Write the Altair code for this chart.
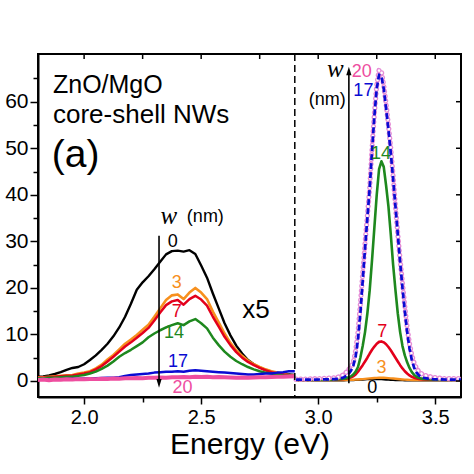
import altair as alt
import pandas as pd

# ---------------------------------------------------------------------------
# Visible (defect) band, plotted x5, left of the break at 2.9 eV
# ---------------------------------------------------------------------------
e_vis = [1.800, 1.825, 1.850, 1.875, 1.900, 1.925, 1.950, 1.975, 2.000, 2.025,
         2.050, 2.075, 2.100, 2.125, 2.150, 2.175, 2.200, 2.225, 2.250, 2.275,
         2.300, 2.325, 2.350, 2.375, 2.400, 2.425, 2.450, 2.475, 2.500, 2.525,
         2.550, 2.575, 2.600, 2.625, 2.650, 2.675, 2.700, 2.725, 2.750, 2.775,
         2.800, 2.825, 2.850, 2.875, 2.900]

vis_w0 = [0.9, 1.0, 1.2, 1.5, 1.9, 2.4, 2.8, 3.0, 3.6, 4.5,
          5.5, 6.7, 8.0, 9.6, 11.5, 13.8, 16.6, 19.6, 21.2, 22.5,
          24.0, 25.6, 27.2, 27.9, 28.0, 27.8, 28.1, 27.3, 24.8, 22.2,
          18.8, 15.6, 12.4, 9.8, 7.6, 5.9, 4.5, 3.6, 2.9, 2.4,
          2.0, 1.7, 1.5, 1.4, 1.3]
vis_w3 = [0.8, 0.8, 0.9, 1.0, 1.1, 1.2, 1.3, 1.6, 1.8, 2.1,
          2.7, 3.5, 4.6, 5.6, 6.8, 8.0, 8.9, 9.9, 11.0, 12.1,
          13.8, 15.6, 17.4, 18.4, 18.6, 17.6, 19.0, 20.0, 19.0, 17.6,
          14.9, 12.6, 10.2, 8.2, 6.6, 5.4, 4.4, 3.6, 3.0, 2.5,
          2.1, 1.8, 1.5, 1.3, 1.2]
vis_w7 = [0.7, 0.7, 0.8, 0.9, 1.0, 1.1, 1.2, 1.4, 1.6, 1.9,
          2.5, 3.2, 4.2, 5.2, 6.3, 7.4, 8.3, 9.3, 10.3, 11.4,
          13.0, 14.7, 16.3, 17.1, 17.4, 16.4, 17.6, 18.3, 17.5, 16.2,
          13.8, 11.7, 9.5, 7.7, 6.2, 5.0, 4.1, 3.4, 2.8, 2.3,
          1.9, 1.6, 1.4, 1.2, 1.1]
vis_w14 = [0.6, 0.6, 0.7, 0.7, 0.8, 0.9, 0.9, 1.1, 1.3, 1.6,
           2.0, 2.6, 3.3, 4.2, 5.2, 6.0, 6.7, 7.5, 8.3, 9.4,
           10.2, 10.9, 11.5, 12.0, 12.4, 12.0, 12.8, 13.3, 12.4, 11.3,
           9.3, 7.7, 6.3, 5.2, 4.3, 3.6, 3.0, 2.5, 2.1, 1.8,
           1.6, 1.4, 1.2, 1.1, 1.0]
vis_w17 = [0.3, 0.3, 0.35, 0.4, 0.4, 0.45, 0.5, 0.5, 0.55, 0.6,
           0.6, 0.65, 0.7, 0.7, 0.8, 1.1, 1.3, 1.4, 1.5, 1.6,
           1.8, 1.9, 2.0, 2.0, 2.1, 2.0, 2.2, 2.3, 2.2, 2.1,
           2.0, 1.9, 1.8, 1.7, 1.6, 1.5, 1.4, 1.4, 1.5, 1.6,
           1.6, 1.8, 1.9, 2.1, 2.1]
vis_w20 = [0.2, 0.3, 0.15, 0.3, 0.25, 0.35, 0.3, 0.4, 0.35, 0.45,
           0.4, 0.5, 0.45, 0.55, 0.5, 0.6, 0.6, 0.65, 0.6, 0.7,
           0.7, 0.75, 0.7, 0.8, 0.8, 0.85, 0.8, 0.9, 0.85, 0.9,
           0.8, 0.85, 0.8, 0.75, 0.7, 0.75, 0.7, 0.75, 0.8, 0.8,
           0.85, 0.9, 0.9, 0.95, 1.0]

# ---------------------------------------------------------------------------
# Near-band-edge UV emission, right of the break
# ---------------------------------------------------------------------------
e_uv = [2.905, 2.94, 2.99, 3.04, 3.07, 3.09,
        3.10, 3.11, 3.12, 3.13, 3.14, 3.15, 3.16, 3.17, 3.18, 3.19,
        3.20, 3.21, 3.22, 3.23, 3.24, 3.25, 3.26, 3.27, 3.28, 3.29,
        3.30, 3.31, 3.32, 3.33, 3.34, 3.35, 3.36, 3.37, 3.38, 3.39,
        3.40, 3.41, 3.42, 3.43, 3.44, 3.45,
        3.47, 3.49, 3.52, 3.55, 3.61]

uv_w0 = [0.15, 0.15, 0.15, 0.15, 0.15, 0.15,
         0.15, 0.15, 0.16, 0.17, 0.18, 0.2, 0.22, 0.25, 0.28, 0.31,
         0.34, 0.37, 0.39, 0.4, 0.4, 0.4, 0.39, 0.37, 0.34, 0.31,
         0.28, 0.25, 0.22, 0.2, 0.18, 0.17, 0.16, 0.15, 0.15, 0.15,
         0.15, 0.15, 0.15, 0.15, 0.15, 0.15,
         0.15, 0.15, 0.15, 0.15, 0.15]
uv_w3 = [0.2, 0.2, 0.2, 0.2, 0.2, 0.2,
         0.2, 0.2, 0.22, 0.24, 0.26, 0.28, 0.3, 0.33, 0.37, 0.41,
         0.46, 0.51, 0.56, 0.6, 0.64, 0.67, 0.69, 0.7, 0.69, 0.66,
         0.62, 0.57, 0.52, 0.47, 0.42, 0.37, 0.33, 0.29, 0.26, 0.24,
         0.22, 0.21, 0.2, 0.2, 0.2, 0.2,
         0.2, 0.2, 0.2, 0.2, 0.2]
uv_w7 = [0.3, 0.3, 0.3, 0.3, 0.35, 0.35,
         0.4, 0.45, 0.5, 0.6, 0.8, 1.0, 1.4, 2.0, 2.7, 3.4,
         4.2, 5.0, 5.9, 6.7, 7.4, 8.0, 8.4, 8.5, 8.3, 7.9,
         7.3, 6.6, 5.8, 5.0, 4.2, 3.4, 2.7, 2.1, 1.6, 1.2,
         0.9, 0.7, 0.55, 0.45, 0.4, 0.35,
         0.3, 0.3, 0.3, 0.3, 0.3]
uv_w14 = [0.3, 0.3, 0.3, 0.3, 0.35, 0.4,
          0.45, 0.5, 0.6, 0.8, 1.0, 1.4, 2.0, 3.0, 5.0, 7.5,
          10.5, 14.5, 19.5, 26.0, 33.0, 40.0, 45.5, 47.2, 46.0, 42.0,
          37.5, 31.5, 25.0, 19.5, 14.5, 10.5, 7.5, 5.5, 4.0, 2.8,
          1.9, 1.3, 0.9, 0.7, 0.5, 0.45,
          0.4, 0.35, 0.3, 0.3, 0.3]
uv_w17 = [0.3, 0.3, 0.3, 0.35, 0.4, 0.5,
          0.6, 0.8, 1.1, 1.5, 2.2, 3.3, 5.3, 9.0, 14.5, 21.5,
          28.5, 35.0, 41.5, 49.5, 57.0, 62.8, 65.8, 65.5, 62.8, 58.5,
          54.0, 49.0, 43.5, 37.5, 31.5, 25.5, 20.0, 15.0, 10.5, 7.0,
          4.5, 2.8, 1.8, 1.2, 0.9, 0.7,
          0.5, 0.4, 0.35, 0.3, 0.3]
uv_w20 = [0.4, 0.4, 0.5, 0.6, 0.7, 0.9,
          1.1, 1.4, 1.9, 2.5, 3.0, 4.0, 6.5, 10.5, 16.5, 23.0,
          29.5, 35.5, 41.5, 50.0, 57.5, 63.5, 66.8, 66.5, 63.5, 59.5,
          55.0, 50.0, 44.0, 37.5, 31.5, 26.0, 21.0, 16.0, 11.5, 8.0,
          5.5, 3.8, 2.7, 2.0, 1.6, 1.3,
          1.0, 0.8, 0.6, 0.5, 0.5]

x_ticks = [2.0, 2.25, 2.5, 2.75, 3.0, 3.25, 3.5]
y_ticks = [0, 5, 10, 15, 20, 25, 30, 35, 40, 45, 50, 55, 60, 65]
right_ticks = [0, 10, 20, 30, 40, 50, 60]
break_energy = [2.9]

# ---------------------------------------------------------------------------
# Styling
# ---------------------------------------------------------------------------
W, H = 423, 343
FONT = "Liberation Sans"
C_BLACK = "#000000"
C_ORANGE = "#f7901e"
C_RED = "#e3001b"
C_GREEN = "#1e881e"
C_BLUE = "#0a0ad2"
C_PINK = "#ee4e9f"
C_CIRCLE = "#e58cd6"

xs = alt.Scale(domain=[1.803, 3.61], nice=False, zero=False)
ys = alt.Scale(domain=[-3.44, 70.25], nice=False, zero=False)

x_axis = alt.Axis(
    values=x_ticks,
    labelExpr="abs(datum.value*2 - round(datum.value*2)) < 0.01 ? format(datum.value, '.1f') : ''",
    grid=False, domainColor="black", domainWidth=2,
    tickColor="black", tickWidth=1.5,
    tickSize={"condition": {"test": "abs(datum.value*2 - round(datum.value*2)) < 0.01", "value": 7}, "value": 5},
    labelFont=FONT, labelFontSize=20, labelColor="black", labelPadding=3, labelFlush=False,
    title="Energy (eV)", titleFont=FONT, titleFontSize=30, titleFontWeight="normal",
    titleColor="black", titlePadding=2,
)
y_axis = alt.Axis(
    values=y_ticks,
    labelExpr="datum.value % 10 == 0 ? format(datum.value, 'd') : ''",
    grid=False, domainColor="black", domainWidth=2,
    tickColor="black", tickWidth=1.5,
    tickSize={"condition": {"test": "datum.value % 10 == 0", "value": 8}, "value": 5},
    labelFont=FONT, labelFontSize=21, labelColor="black", labelPadding=2, labelFlush=False,
    title=None,
)


def X(field="E"):
    return alt.X(f"{field}:Q", scale=xs, axis=x_axis)


def Y(field="I"):
    return alt.Y(f"{field}:Q", scale=ys, axis=y_axis)


def curve(e, vals, color, width=2.4, **kw):
    df = pd.DataFrame({"E": e, "I": vals})
    return alt.Chart(df).mark_line(color=color, strokeWidth=width, clip=True,
                                   strokeJoin="round", **kw).encode(x=X(), y=Y())


def note(text, e, v, color="black", size=18, align="center", baseline="middle",
         font=FONT, style="normal"):
    df = pd.DataFrame({"E": [e], "I": [v], "t": [text]})
    return alt.Chart(df).mark_text(color=color, fontSize=size, align=align,
                                   baseline=baseline, font=font, fontStyle=style).encode(
        x=X(), y=Y(), text="t:N")


layers = []

# visible band (x5)
layers += [
    curve(e_vis, vis_w0, C_BLACK, 2.4),
    curve(e_vis, vis_w3, C_ORANGE, 2.6),
    curve(e_vis, vis_w7, C_RED, 2.5),
    curve(e_vis, vis_w14, C_GREEN, 2.5),
    curve(e_vis, vis_w17, C_BLUE, 2.5),
    curve(e_vis, vis_w20, C_PINK, 4.0),
]

# UV band
layers += [
    curve(e_uv, uv_w0, C_BLACK, 2.2),
    curve(e_uv, uv_w3, C_ORANGE, 2.4),
    curve(e_uv, uv_w7, C_RED, 2.6),
    curve(e_uv, uv_w14, C_GREEN, 2.6),
    # open-circle trace for the 20 nm shell
    curve(e_uv, uv_w20, C_CIRCLE, 5.2, strokeDash=[0.1, 4.6], strokeCap="round"),
    curve(e_uv, uv_w20, "white", 2.6, strokeDash=[0.1, 4.6], strokeCap="round"),
    curve(e_uv, uv_w17, C_BLUE, 2.7, strokeDash=[6, 3]),
]

# dashed break line
layers.append(
    alt.Chart(pd.DataFrame({"E": break_energy})).mark_rule(
        color="black", strokeWidth=1.5, strokeDash=[7, 4]).encode(
        x=X(), y=alt.value(0), y2=alt.value(H))
)

# inward mirror ticks on the top and right edges
layers.append(
    alt.Chart(pd.DataFrame({"E": x_ticks})).mark_rule(color="black", strokeWidth=1.5).encode(
        x=X(), y=alt.value(0), y2=alt.value(5))
)
layers.append(
    alt.Chart(pd.DataFrame({"I": right_ticks})).mark_rule(color="black", strokeWidth=1.5).encode(
        y=Y(), x=alt.value(W), x2=alt.value(W - 5))
)

# arrows showing the shell-thickness trend
arrow_down = "M -0.6 -1 L 0.6 -1 L 0 1 Z"
arrow_up = "M -0.6 1 L 0.6 1 L 0 -1 Z"
layers += [
    alt.Chart(pd.DataFrame({"E": [2.320], "I": [31.2], "I2": [-0.5]})).mark_rule(
        color="black", strokeWidth=1.6).encode(x=X(), y=Y(), y2="I2:Q"),
    alt.Chart(pd.DataFrame({"E": [2.320], "I": [-0.5]})).mark_point(
        shape=arrow_down, filled=True, size=75, color="black", opacity=1).encode(x=X(), y=Y()),
    alt.Chart(pd.DataFrame({"E": [3.131], "I": [-0.5], "I2": [66.6]})).mark_rule(
        color="black", strokeWidth=1.6).encode(x=X(), y=Y(), y2="I2:Q"),
    alt.Chart(pd.DataFrame({"E": [3.131], "I": [66.6]})).mark_point(
        shape=arrow_up, filled=True, size=75, color="black", opacity=1).encode(x=X(), y=Y()),
]

# annotations
layers += [
    note("ZnO/MgO", 1.867, 61.9, size=25, align="left", baseline="alphabetic"),
    note("core-shell NWs", 1.867, 55.4, size=26, align="left", baseline="alphabetic"),
    note("(a)", 1.862, 46.0, size=39, align="left", baseline="alphabetic"),
    note("x5", 2.734, 15.25, size=26),
    note("w", 2.362, 35.4, size=25, font="Liberation Serif", style="italic"),
    note("(nm)", 2.518, 35.2, size=18),
    note("0", 2.379, 29.9, C_BLACK),
    note("3", 2.396, 21.05, C_ORANGE),
    note("7", 2.396, 14.8, C_RED),
    note("14", 2.384, 10.3, C_GREEN),
    note("17", 2.401, 4.1, C_BLUE),
    note("20", 2.420, -1.5, C_PINK),
    note("w", 3.073, 67.0, size=25, font="Liberation Serif", style="italic"),
    note("(nm)", 3.039, 60.4, size=18),
    note("20", 3.186, 66.4, C_PINK),
    note("17", 3.193, 62.4, C_BLUE),
    note("14", 3.268, 48.7, C_GREEN),
    note("7", 3.274, 10.6, C_RED),
    note("3", 3.270, 2.7, C_ORANGE),
    note("0", 3.231, -1.5, C_BLACK),
]

chart = alt.layer(*layers).properties(
    width=W,
    height=H,
    padding={"left": 38, "top": 54, "right": 13, "bottom": 77},
    autosize=alt.AutoSizeParams(type="none"),
    background="white",
).configure_view(stroke="black", strokeWidth=2)

chart.save("out.html", embed_options={"renderer": "svg", "actions": False})
